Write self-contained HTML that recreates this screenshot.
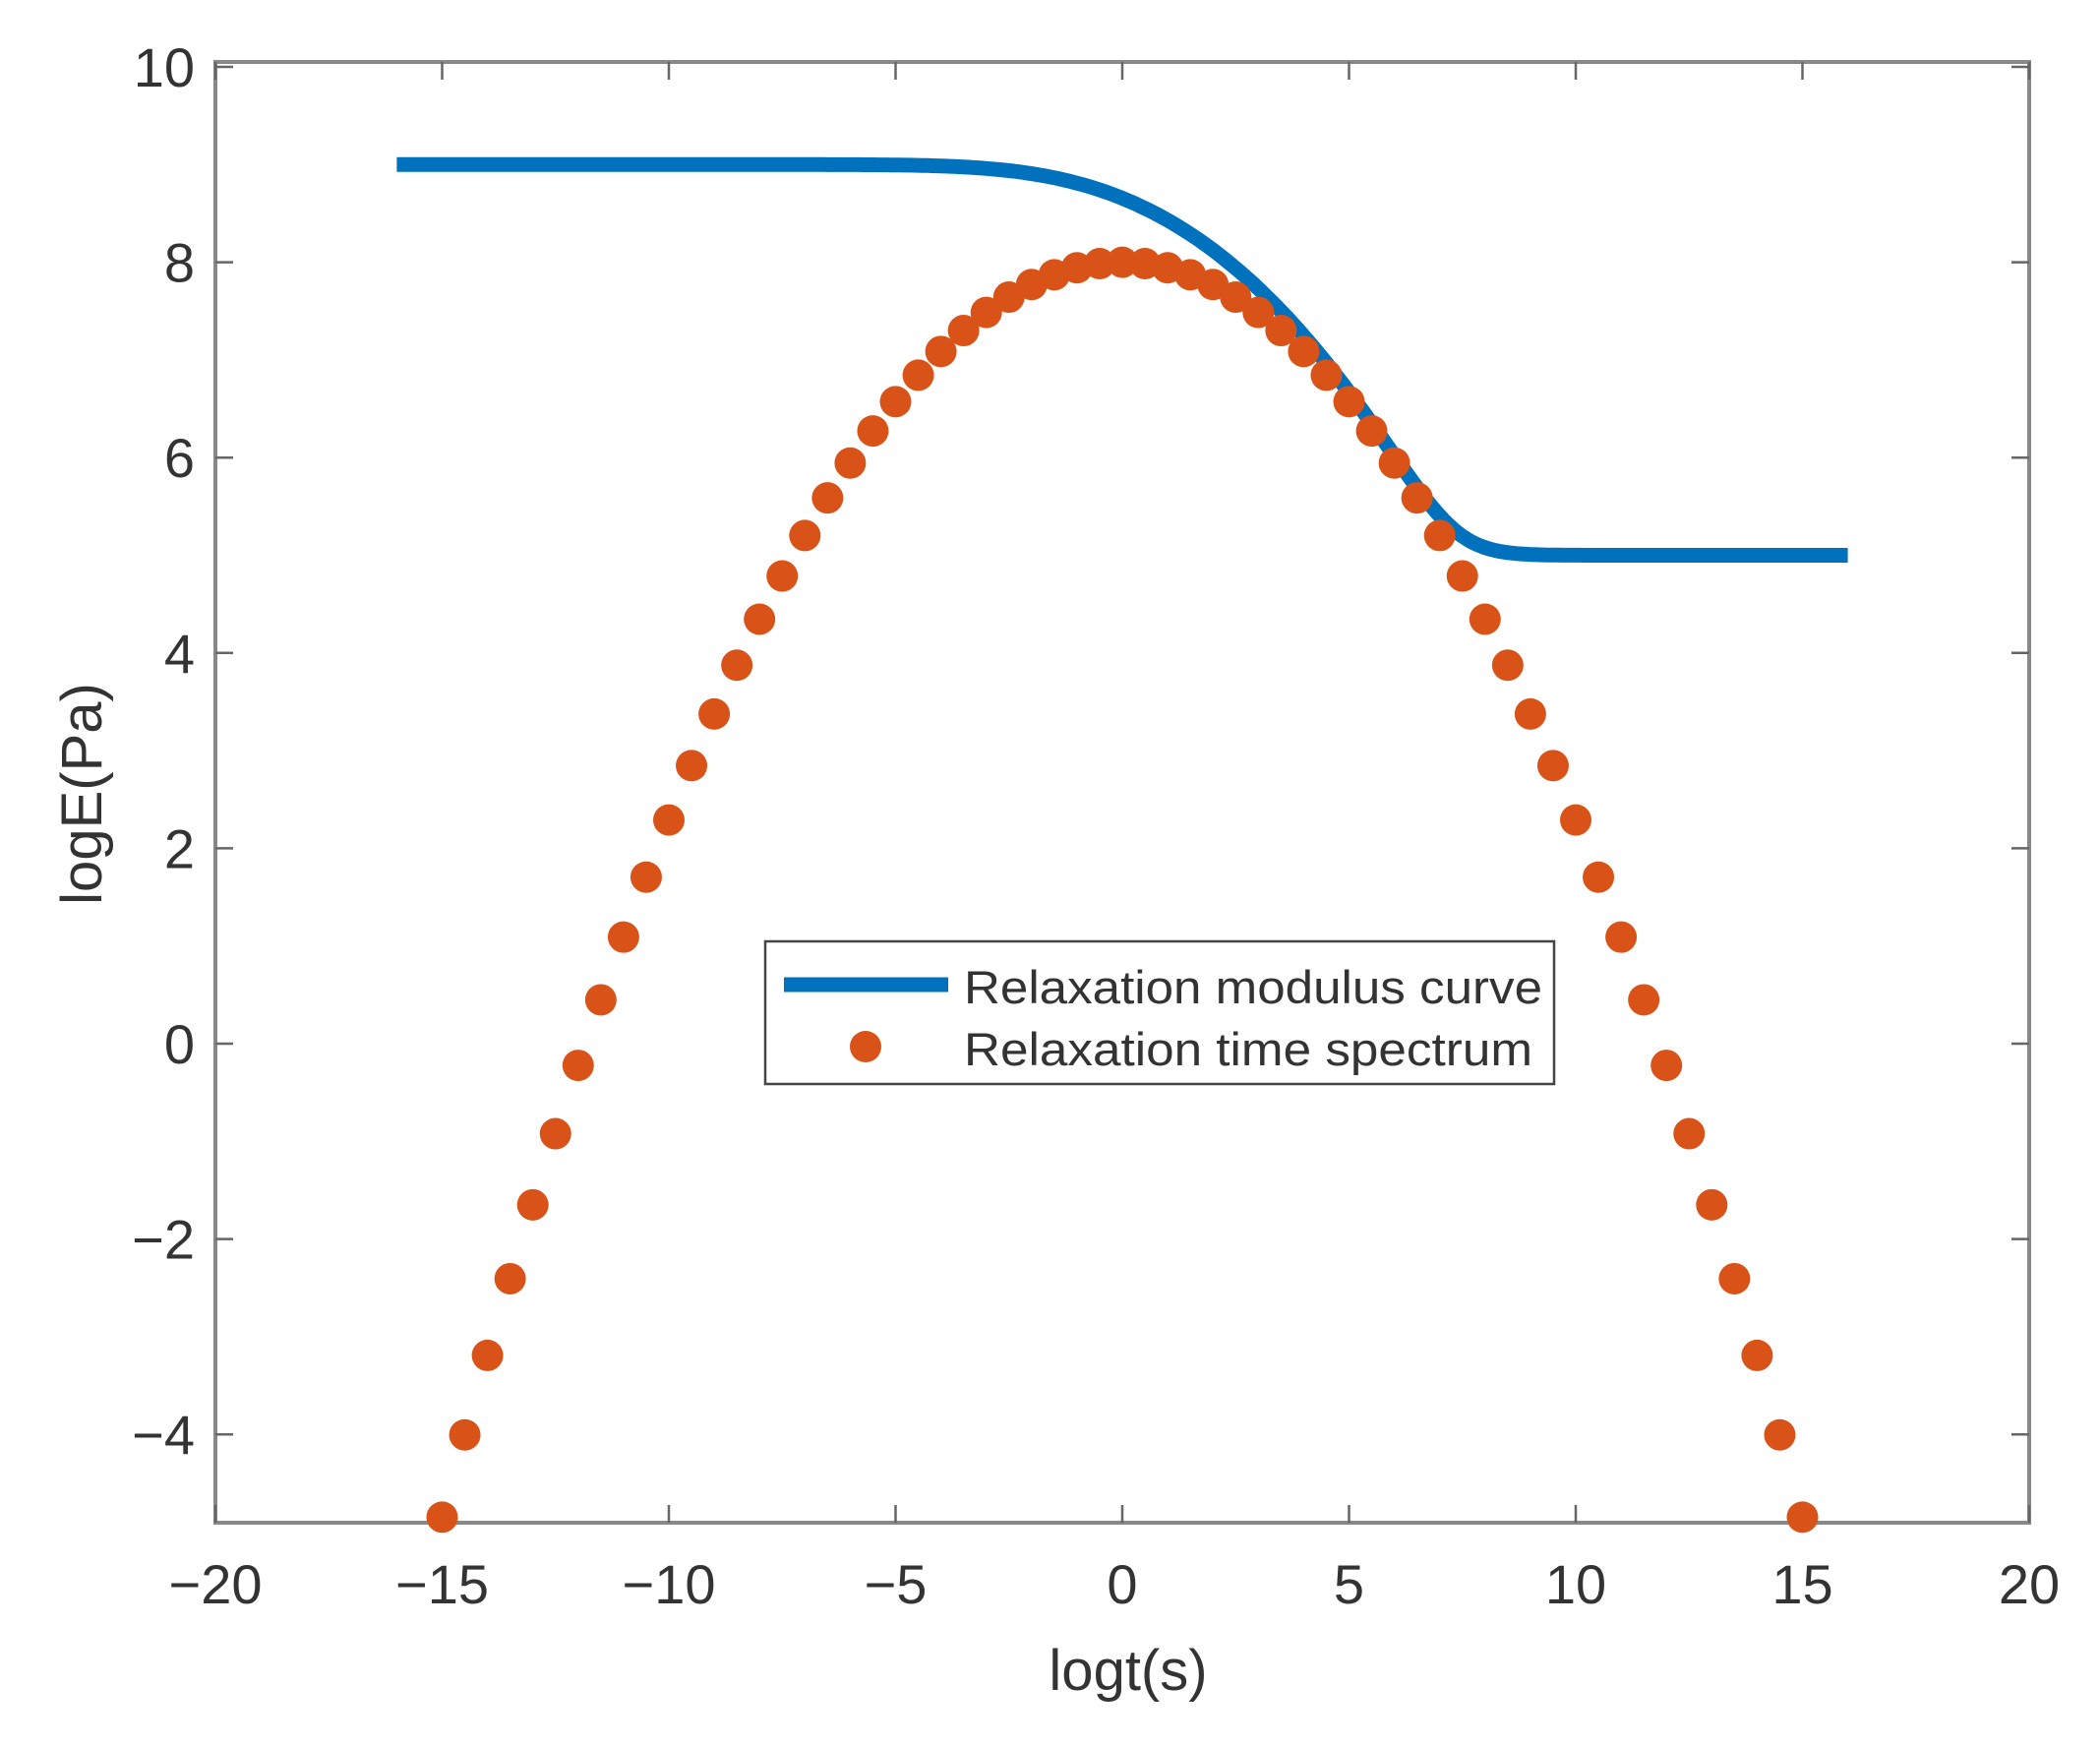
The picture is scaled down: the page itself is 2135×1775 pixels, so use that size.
<!DOCTYPE html>
<html><head><meta charset="utf-8"><style>
html,body{margin:0;padding:0;background:#fff;}
svg{display:block;}
text{font-family:"Liberation Sans",sans-serif;fill:#333;}
</style></head><body>
<svg id="s" width="2135" height="1775" viewBox="0 0 2135 1775" xmlns="http://www.w3.org/2000/svg">
<rect width="2135" height="1775" fill="#fff"/>
<g id="axes"></g>
<path id="curve" fill="none" stroke="#0072BD" stroke-width="15" stroke-linejoin="round"/>
<g id="dots" fill="#D95319"></g>
<rect x="778" y="957" width="802" height="145" fill="#fff" stroke="#444" stroke-width="2.5"/>
<line x1="797" y1="1001" x2="964" y2="1001" stroke="#0072BD" stroke-width="15"/>
<circle cx="880" cy="1064" r="16" fill="#D95319"/>
<text x="980" y="1020" font-size="47" textLength="588" lengthAdjust="spacingAndGlyphs">Relaxation modulus curve</text>
<text x="980" y="1083" font-size="47" textLength="578" lengthAdjust="spacingAndGlyphs">Relaxation time spectrum</text>
<text x="1147" y="1718" font-size="58" text-anchor="middle">logt(s)</text>
<text transform="translate(103,807) rotate(-90)" font-size="58" text-anchor="middle">logE(Pa)</text>
</svg>
<script>
const X=v=>219+(v+20)*46.1, Y=v=>68+(10-v)*99.3;
const ns="http://www.w3.org/2000/svg";
const ax=document.getElementById('axes');
function el(t,a,p,txt){const e=document.createElementNS(ns,t);for(const k in a)e.setAttribute(k,a[k]);if(txt!==undefined)e.textContent=txt;(p||ax).appendChild(e);return e;}
const L=219,R=2063,T=63,B=1548;
el('rect',{x:L,y:T,width:R-L,height:B-T,fill:'none',stroke:'#888','stroke-width':4});
for(let v=-20;v<=20;v+=5){const x=X(v);
 el('line',{x1:x,y1:B,x2:x,y2:B-18,stroke:'#666','stroke-width':2.5});
 el('line',{x1:x,y1:T,x2:x,y2:T+18,stroke:'#666','stroke-width':2.5});
 el('text',{x:x,y:1630,'font-size':56,'text-anchor':'middle'},null,(v<0?'\u2212'+(-v):''+v));}
for(let v=-4;v<=10;v+=2){const y=Y(v);
 el('line',{x1:L,y1:y,x2:L+18,y2:y,stroke:'#666','stroke-width':2.5});
 el('line',{x1:R,y1:y,x2:R-18,y2:y,stroke:'#666','stroke-width':2.5});
 el('text',{x:198,y:y+20,'font-size':56,'text-anchor':'end'},null,(v<0?'\u2212'+(-v):''+v));}
const a=0.0571,H=x=>Math.pow(10,8-a*x*x);
const dx=0.05;let tot=0;const xs=[];
for(let x=-30;x<=30;x+=dx){xs.push(x);tot+=H(x)*Math.LN10*dx;}
const sc=(1e9-1e5)/tot;
let d='';
for(let s=-16;s<=16.001;s+=0.1){let E=1e5;for(const x of xs){E+=sc*H(x)*Math.exp(-Math.pow(10,s-x))*Math.LN10*dx;}
 d+=(d?'L':'M')+X(s).toFixed(1)+','+Y(Math.log10(E)).toFixed(1);}
document.getElementById('curve').setAttribute('d',d);
const g=document.getElementById('dots');
for(let i=-30;i<=30;i++){const x=i/2;const v=8-a*x*x;el('circle',{cx:X(x),cy:Y(v),r:16},g);}
</script>
</body></html>
